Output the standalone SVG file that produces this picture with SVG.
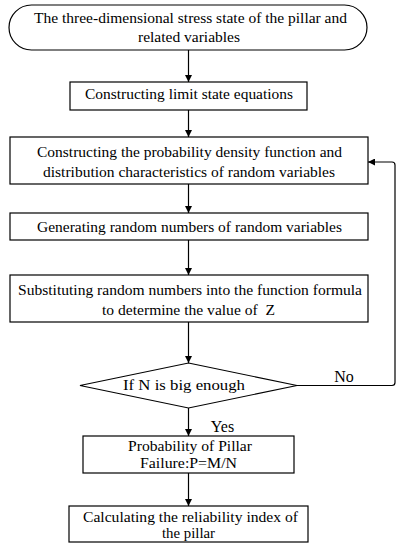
<svg xmlns="http://www.w3.org/2000/svg" width="405" height="550" viewBox="0 0 405 550">
<defs>
<marker id="ah" viewBox="0 0 10 10" refX="10" refY="5" markerWidth="7" markerHeight="7" markerUnits="userSpaceOnUse" orient="auto">
<path d="M0,0 L10,5 L0,10 Z" fill="#000"/>
</marker>
<style>
.n{fill:#fff;stroke:#000;stroke-width:1.2}
.t{font-size:15.5px;fill:#000;text-anchor:middle}
.s{font-size:14px}
.c{fill:none;stroke:#000;stroke-width:1.2;marker-end:url(#ah)}
</style>
</defs>
<rect width="405" height="550" fill="#fff"/>
<g font-family="'Liberation Serif', 'Times New Roman', 'DejaVu Serif', serif">
<g id="connectors">
<path class="c" d="M188.5,50 V82"/>
<path class="c" d="M188.5,110 V137"/>
<path class="c" d="M188.5,184 V213"/>
<path class="c" d="M188.5,240 V275"/>
<path class="c" d="M188.5,322 V363"/>
<path class="c" d="M188.5,408 V436"/>
<path class="c" d="M188.5,473 V506"/>
<path class="c" d="M297,385.5 H392 Q395,385.5 395,382.5 V165 Q395,162 392,162 H368"/>
<text class="t" x="344" y="382" style="font-size:16px">No</text>
<text class="t" x="222.5" y="432" style="font-size:16px">Yes</text>
</g>
<g id="start">
<rect class="n" x="9" y="5" width="358" height="45" rx="22.5" ry="22.5"/>
<text class="t" x="190.5" y="23" textLength="313" lengthAdjust="spacingAndGlyphs">The three-dimensional stress state of the pillar and</text>
<text class="t" x="189" y="42" textLength="102" lengthAdjust="spacingAndGlyphs">related variables</text>
</g>
<g id="limit">
<rect class="n" x="70" y="82" width="237" height="28"/>
<text class="t" x="189" y="99" textLength="208" lengthAdjust="spacingAndGlyphs">Constructing limit state equations</text>
</g>
<g id="pdf">
<rect class="n" x="10" y="137" width="358" height="47"/>
<text class="t" x="189.5" y="157" textLength="305" lengthAdjust="spacingAndGlyphs">Constructing the probability density function and</text>
<text class="t" x="189" y="177" textLength="292" lengthAdjust="spacingAndGlyphs">distribution characteristics of random variables</text>
</g>
<g id="generate">
<rect class="n" x="10" y="213" width="358" height="27"/>
<text class="t" x="189.5" y="232" textLength="305" lengthAdjust="spacingAndGlyphs">Generating random numbers of random variables</text>
</g>
<g id="substitute">
<rect class="n" x="10" y="275" width="358" height="47"/>
<text class="t" x="190" y="295" textLength="344" lengthAdjust="spacingAndGlyphs">Substituting random numbers into the function formula</text>
<text class="t" x="188.5" y="315" textLength="173" lengthAdjust="spacingAndGlyphs" xml:space="preserve">to determine the value of  Z</text>
</g>
<g id="decision">
<path class="n" d="M188.5,363 L297,385.5 L188.5,408 L80,385.5 Z"/>
<text class="t" x="184" y="390" textLength="122" lengthAdjust="spacingAndGlyphs">If N is big enough</text>
</g>
<g id="probability">
<rect class="n" x="83" y="436" width="211" height="37"/>
<text class="t s" x="190" y="451" textLength="124" lengthAdjust="spacingAndGlyphs">Probability of Pillar</text>
<text class="t s" x="188.5" y="468" textLength="97" lengthAdjust="spacingAndGlyphs">Failure:P=M/N</text>
</g>
<g id="reliability">
<rect class="n" x="69" y="506" width="239" height="36"/>
<text class="t" x="190.5" y="522" textLength="215" lengthAdjust="spacingAndGlyphs">Calculating the reliability index of</text>
<text class="t" x="188.5" y="538" textLength="53" lengthAdjust="spacingAndGlyphs">the pillar</text>
</g>
</g>
</svg>
